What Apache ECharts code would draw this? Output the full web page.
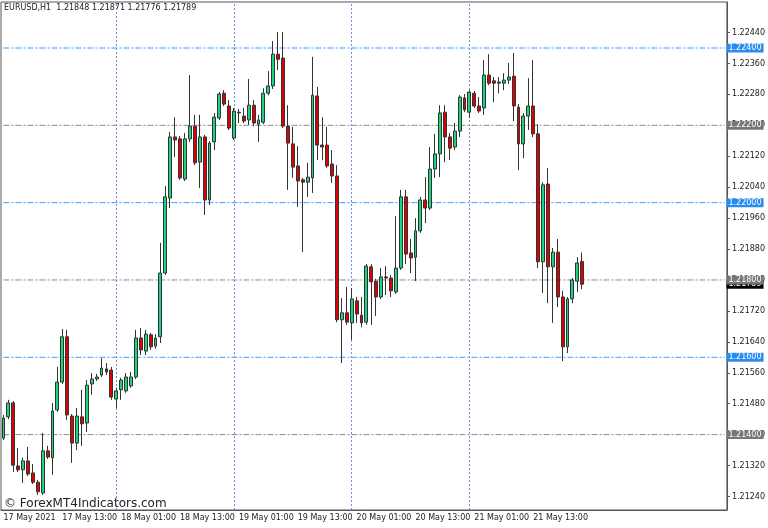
<!DOCTYPE html>
<html>
<head>
<meta charset="utf-8">
<script src="https://cdn.jsdelivr.net/npm/echarts@6/dist/echarts.min.js"></script>
<style>
  html, body { margin: 0; padding: 0; background: #fff; }
  #chart { width: 768px; height: 528px; }
</style>
</head>
<body>
<div id="chart"></div>
<script>
// EURUSD H1, 17 May 2021 01:00 onward, one bar per hour
var openPrices = [1.21391,1.21446,1.21482,1.21319,1.21309,1.21332,1.21301,1.21277,1.21249,1.21358,
  1.21340,1.21464,1.21536,1.21653,1.21448,1.21378,1.21446,1.21430,1.21531,1.21544,
  1.21554,1.21570,1.21567,1.21492,1.21516,1.21513,1.21526,1.21549,1.21650,1.21616,
  1.21658,1.21629,1.21653,1.21818,1.22012,1.22170,1.22165,1.22061,1.22165,1.22198,
  1.22105,1.22170,1.22007,1.22157,1.22219,1.22283,1.22250,1.22167,1.22234,1.22224,
  1.22214,1.22252,1.22203,1.22208,1.22283,1.22302,1.22384,1.22374,1.22198,1.22152,
  1.22095,1.22059,1.22053,1.22064,1.22276,1.22149,1.22149,1.22100,1.22069,1.21697,
  1.21715,1.21689,1.21746,1.21709,1.21691,1.21834,1.21797,1.21756,1.21808,1.21805,
  1.21769,1.21831,1.22015,1.21870,1.21859,1.21927,1.22007,1.21986,1.22087,1.22126,
  1.22234,1.22170,1.22144,1.22185,1.22271,1.22234,1.22283,1.22250,1.22245,1.22330,
  1.22315,1.22309,1.22309,1.22317,1.22327,1.22247,1.22152,1.22224,1.22250,1.22178,
  1.21847,1.22048,1.21834,1.21872,1.21756,1.21627,1.21751,1.21797,1.21848];
var closePrices = [1.21443,1.21482,1.21321,1.21309,1.21332,1.21298,1.21277,1.21252,1.21358,1.21342,
  1.21461,1.21536,1.21653,1.21451,1.21378,1.21448,1.21428,1.21528,1.21544,1.21549,
  1.21572,1.21562,1.21497,1.21513,1.21541,1.21549,1.21549,1.21650,1.21619,1.21660,
  1.21627,1.21650,1.21818,1.22015,1.22170,1.22162,1.22064,1.22165,1.22198,1.22103,
  1.22170,1.22007,1.22154,1.22221,1.22281,1.22255,1.22193,1.22237,1.22232,1.22211,
  1.22252,1.22206,1.22214,1.22283,1.22302,1.22384,1.22371,1.22198,1.22154,1.22092,
  1.22056,1.22053,1.22066,1.22278,1.22149,1.22144,1.22095,1.22069,1.21697,1.21715,
  1.21691,1.21751,1.21712,1.21689,1.21836,1.21795,1.21756,1.21808,1.21805,1.21772,
  1.21831,1.22015,1.21867,1.21857,1.21927,1.22007,1.21986,1.22087,1.22126,1.22232,
  1.22170,1.22141,1.22185,1.22273,1.22240,1.22286,1.22250,1.22237,1.22330,1.22309,
  1.22309,1.22312,1.22317,1.22325,1.22250,1.22152,1.22224,1.22250,1.22178,1.21847,
  1.22046,1.21834,1.21872,1.21756,1.21627,1.21751,1.21800,1.21844,1.21789];
var lowPrices = [1.21386,1.21440,1.21303,1.21303,1.21275,1.21293,1.21272,1.21244,1.21244,1.21337,
  1.21296,1.21459,1.21531,1.21438,1.21327,1.21360,1.21371,1.21407,1.21503,1.21539,
  1.21549,1.21554,1.21490,1.21469,1.21490,1.21508,1.21521,1.21544,1.21606,1.21606,
  1.21619,1.21622,1.21637,1.21813,1.21986,1.22118,1.22059,1.22056,1.22157,1.22097,
  1.22038,1.21968,1.21994,1.22136,1.22214,1.22250,1.22188,1.22162,1.22206,1.22206,
  1.22201,1.22198,1.22157,1.22203,1.22278,1.22294,1.22343,1.22193,1.22033,1.22064,
  1.21989,1.21872,1.22015,1.22025,1.22110,1.22110,1.22090,1.22051,1.21691,1.21585,
  1.21684,1.21645,1.21689,1.21678,1.21684,1.21684,1.21707,1.21751,1.21761,1.21756,
  1.21764,1.21826,1.21841,1.21818,1.21797,1.21922,1.21947,1.21981,1.22064,1.22066,
  1.22105,1.22110,1.22136,1.22170,1.22234,1.22219,1.22245,1.22232,1.22227,1.22304,
  1.22260,1.22283,1.22291,1.22307,1.22211,1.22084,1.22115,1.22188,1.22170,1.21831,
  1.21766,1.21740,1.21689,1.21730,1.21590,1.21611,1.21740,1.21769,1.21776];
var highPrices = [1.21451,1.21490,1.21487,1.21365,1.21340,1.21368,1.21324,1.21283,1.21404,1.21371,
  1.21482,1.21575,1.21673,1.21671,1.21453,1.21469,1.21516,1.21541,1.21559,1.21557,
  1.21598,1.21585,1.21575,1.21521,1.21547,1.21559,1.21562,1.21671,1.21676,1.21671,
  1.21663,1.21660,1.21896,1.22043,1.22183,1.22221,1.22172,1.22180,1.22330,1.22227,
  1.22227,1.22175,1.22159,1.22232,1.22286,1.22291,1.22265,1.22245,1.22242,1.22245,
  1.22320,1.22265,1.22227,1.22296,1.22340,1.22418,1.22441,1.22441,1.22252,1.22196,
  1.22146,1.22064,1.22103,1.22377,1.22299,1.22221,1.22196,1.22136,1.22097,1.21753,
  1.21782,1.21779,1.21756,1.21756,1.21841,1.21841,1.21803,1.21831,1.21836,1.21813,
  1.21965,1.22033,1.22033,1.21906,1.21960,1.22015,1.22066,1.22144,1.22178,1.22252,
  1.22252,1.22180,1.22206,1.22278,1.22281,1.22291,1.22289,1.22273,1.22369,1.22384,
  1.22325,1.22325,1.22335,1.22361,1.22387,1.22255,1.22232,1.22322,1.22369,1.22203,
  1.22053,1.22090,1.21883,1.21906,1.21772,1.21756,1.21805,1.21859,1.21871];

var priceTicks = [1.21240,1.21320,1.21400,1.21480,1.21560,1.21640,1.21720,1.21800,1.21880,1.21960,
  1.22040,1.22120,1.22200,1.22280,1.22360,1.22440];
var blueLevels = [1.22400, 1.22000, 1.21600];
var grayLevels = [1.22200, 1.21800, 1.21400];
var lastPrice = 1.21789;
var daySeparators = ['18 May 00:00', '19 May 00:00', '20 May 00:00', '21 May 00:00'];
var totalSlots = 148; // visible hourly slots, empty space right of the last bar

var categories = [];
for (var i = 0; i < totalSlots; i++) {
  var h = 1 + i;
  var day = 17 + Math.floor(h / 24);
  var hh = h % 24;
  categories.push(day + ' May ' + (hh < 10 ? '0' : '') + hh + ':00');
}
var candles = openPrices.map(function (o, i) {
  return [o, closePrices[i], lowPrices[i], highPrices[i]];
});

var dashDot = [6, 2, 2, 2];
var font = 'DejaVu Sans';

// horizontal price level drawn as a flat line series with its label at the right end
function levelSeries(v, lineColor, bg, z) {
  return {
    type: 'line',
    data: categories.map(function () { return v; }),
    symbol: 'none',
    silent: true,
    z: z,
    lineStyle: { color: lineColor, type: dashDot, width: 1 },
    endLabel: { show: true, distance: 2, fontFamily: font, fontSize: 8, padding: [1, 2, 0, 2],
      backgroundColor: bg, color: '#fff', formatter: v.toFixed(5) }
  };
}

var series = [{
  type: 'candlestick',
  data: candles,
  barWidth: 3.4,
  z: 5,
  itemStyle: {
    color: '#17d67f', color0: '#e00000',
    borderColor: '#333', borderColor0: '#333', borderWidth: 1
  },
  markLine: {
    silent: true, symbol: 'none', animation: false,
    data: daySeparators.map(function (c) {
      return { xAxis: c, lineStyle: { color: '#6d8fe6', type: [2, 2], width: 1 }, label: { show: false } };
    })
  }
}];
series.push(levelSeries(lastPrice, 'rgba(0,0,0,0)', '#000', 1));
blueLevels.forEach(function (v) { series.push(levelSeries(v, '#3d9bff', '#2a8cf0', 2)); });
grayLevels.forEach(function (v) { series.push(levelSeries(v, '#8a8a8a', '#777', 2)); });

var myChart = echarts.init(document.getElementById('chart'), null, { renderer: 'canvas' });
var option = {
  animation: false,
  backgroundColor: '#fff',
  grid: { left: 1, right: 41, top: 2, bottom: 18, show: true, borderColor: '#555', borderWidth: 1 },
  xAxis: {
    type: 'category',
    data: categories,
    boundaryGap: true,
    axisLine: { lineStyle: { color: '#555' } },
    axisTick: { alignWithLabel: true, length: 3, interval: function (i) { return i % 12 === 0 && i < 120; }, lineStyle: { color: '#555' } },
    axisLabel: {
      interval: function (i) { return i % 12 === 0 && i < 120; },
      fontFamily: font, fontSize: 8, color: '#222', margin: 4, align: 'left',
      formatter: function (v, i) { return i === 0 ? '17 May 2021' : v; }
    },
    splitLine: { show: false }
  },
  yAxis: {
    type: 'value',
    position: 'right',
    min: 1.21205,
    max: 1.22519,
    axisLine: { show: true, lineStyle: { color: '#555' } },
    axisTick: { show: true, length: 3, customValues: priceTicks, lineStyle: { color: '#555' } },
    axisLabel: { customValues: priceTicks, fontFamily: font, fontSize: 8, color: '#222', margin: 5,
      formatter: function (v) { return v.toFixed(5); } },
    splitLine: { show: false }
  },
  series: series,
  graphic: [
    { type: 'text', left: 4, top: 4,
      style: { text: 'EURUSD,H1  1.21848 1.21871 1.21776 1.21789', font: '8px "DejaVu Sans"', fill: '#222' } },
    { type: 'text', left: 4, top: 498,
      style: { text: '© ForexMT4Indicators.com', font: '12px "DejaVu Sans"', fill: '#222' } }
  ]
};
myChart.setOption(option);
</script>
</body>
</html>
